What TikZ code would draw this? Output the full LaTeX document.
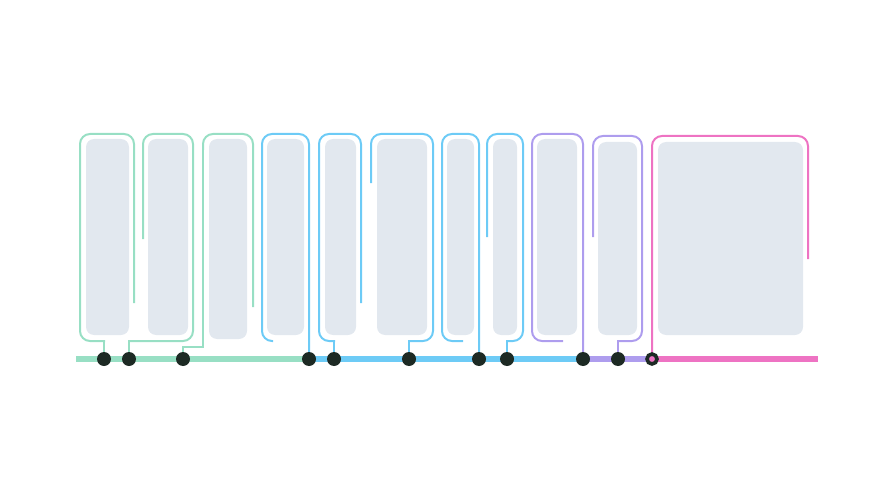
\documentclass[tikz,border=0pt]{standalone}
\usetikzlibrary{backgrounds}
\definecolor{cgreen}{HTML}{98DFC4}
\definecolor{cblue}{HTML}{6DCBF6}
\definecolor{cpurple}{HTML}{AE9DEE}
\definecolor{cpink}{HTML}{EE73C3}
\definecolor{cdark}{HTML}{1D2A24}
\definecolor{cgrey}{HTML}{E2E8EF}
\begin{document}
\begin{tikzpicture}[x=1pt,y=-1pt,
  dotnode/.style={circle,fill=cdark,inner sep=0pt,minimum size=14pt},
  ringnode/.style={circle,fill=cpink,draw=cdark,line width=3.6pt,inner sep=0pt,minimum size=10pt},
  gbox/.style={fill=cgrey,rounded corners=8pt},
  outl/.style={line width=2pt,rounded corners=10pt},
  stub/.style={line width=2pt,line cap=rect},
  thinl/.style={line width=1.2pt},
  rail/.style={line width=6.5pt}]
\useasboundingbox (0,0) rectangle (894,500);
% grey panels
\fill[gbox] (86,139) rectangle (129,335);
\fill[gbox] (148,139) rectangle (188,335);
\fill[gbox] (209,139) rectangle (247,339);
\fill[gbox] (267,139) rectangle (304,335);
\fill[gbox] (325,139) rectangle (356,335);
\fill[gbox] (377,139) rectangle (427,335);
\fill[gbox] (447,139) rectangle (474,335);
\fill[gbox] (493,139) rectangle (517,335);
\fill[gbox] (537,139) rectangle (577,335);
\fill[gbox] (598,142) rectangle (637,335);
\fill[gbox] (658,142) rectangle (803,335);
% rail ends
\coordinate (rs) at (76,359);
\coordinate (re) at (818,359);
% dots
\node[dotnode] (d1) at (104,359) {};
\node[dotnode] (d2) at (129,359) {};
\node[dotnode] (d3) at (183,359) {};
\node[dotnode] (d4) at (309,359) {};
\node[dotnode] (d5) at (334,359) {};
\node[dotnode] (d6) at (409,359) {};
\node[dotnode] (d7) at (479,359) {};
\node[dotnode] (d8) at (507,359) {};
\node[dotnode] (d9) at (583,359) {};
\node[dotnode] (d10) at (618,359) {};
\node[ringnode] (d11) at (652,359) {};
\begin{scope}[on background layer]
% rail
\draw[rail,cgreen] (rs) -- (d4.center);
\draw[rail,cblue] (d4.center) -- (d9.center);
\draw[rail,cpurple] (d9.center) -- (d11.center);
\draw[rail,cpink] (d11.center) -- (re);
% green outlines
\draw[stub,cgreen] (d1.center) -- (104,341);
\draw[outl,cgreen] (105,341) -- (80,341) -- (80,134) -- (134,134) -- (134,303);
\draw[stub,cgreen] (d2.center) -- (129,341);
\draw[outl,cgreen] (128,341) -- (193,341) -- (193,134) -- (143,134) -- (143,239);
\draw[thinl,cgreen] (d3.center) -- (183,347) -- (203,347) -- (203,150);
\draw[outl,cgreen] (203,150) -- (203,134) -- (253,134) -- (253,307);
% blue outlines
\draw[outl,cblue] (d4.center) -- (309,134) -- (262,134) -- (262,341) -- (273,341);
\draw[stub,cblue] (d5.center) -- (334,341);
\draw[outl,cblue] (335,341) -- (319,341) -- (319,134) -- (361,134) -- (361,303);
\draw[stub,cblue] (d6.center) -- (409,341);
\draw[outl,cblue] (408,341) -- (433,341) -- (433,134) -- (371,134) -- (371,183);
\draw[outl,cblue] (d7.center) -- (479,134) -- (442,134) -- (442,341) -- (463,341);
\draw[stub,cblue] (d8.center) -- (507,341);
\draw[outl,cblue] (506,341) -- (523,341) -- (523,134) -- (487,134) -- (487,237);
% purple outlines
\draw[outl,cpurple] (d9.center) -- (583,134) -- (532,134) -- (532,341) -- (563,341);
\draw[stub,cpurple] (d10.center) -- (618,341);
\draw[outl,cpurple] (617,341) -- (642,341) -- (642,136) -- (593,136) -- (593,237);
% pink outline
\draw[outl,cpink] (d11.center) -- (652,136) -- (808,136) -- (808,259);
\end{scope}
\end{tikzpicture}
\end{document}
